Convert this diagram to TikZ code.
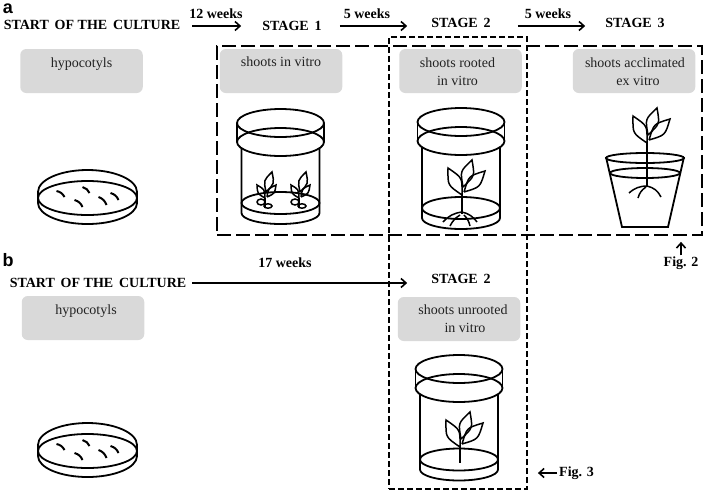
\documentclass[tikz,border=0pt]{standalone}
\usepackage{fontspec}
\setmainfont{Liberation Serif}
\newfontfamily\panelfont{Liberation Sans}
\usetikzlibrary{positioning, arrows.meta}

\definecolor{boxgrey}{HTML}{D9D9D9}
\definecolor{boxink}{HTML}{222222}

\newcommand{\leaf}[2]{\draw[leafline] (#1) to[bend left=28, looseness=1.5] (#2) to[bend left=28, looseness=1.5] (#1);}

\tikzset{
    heading/.style={font=\fontsize{14}{16}\selectfont\bfseries, inner sep=0pt},
    panel/.style={font=\fontsize{18}{18}\selectfont\panelfont\bfseries, inner sep=0pt},
    greybox/.style={fill=boxgrey, rounded corners=6pt, minimum width=122.5pt, minimum height=44pt, inner sep=0pt},
    boxtext/.style={font=\fontsize{14}{18}\selectfont, text=boxink, align=center, inner sep=0pt, anchor=north},
    flow/.style={line width=1.6pt, -{Straight Barb[length=5pt,width=9pt]}},
    longdash/.style={draw, line width=1.7pt, dash pattern=on 14pt off 5pt, minimum width=485pt, minimum height=189pt, inner sep=0pt},
    shortdash/.style={draw, line width=1.8pt, dash pattern=on 6pt off 3pt, minimum width=138pt, minimum height=452pt, inner sep=0pt},
    glass/.style={line width=1.8pt},
    leafline/.style={line width=1.5pt},
    pics/dish/.style={code={
        \draw[glass] (-49.5,-6) arc [start angle=180, end angle=360, x radius=49.5, y radius=22] -- (49.5,5)
            arc [start angle=0, end angle=180, x radius=49.5, y radius=21] -- cycle;
        \draw[glass] (0,0) ellipse [x radius=49.5, y radius=17];
        \foreach \ax/\ay/\bx/\by in {-31/-7/-23/-1, -5/-11/2/-5, -13/2/-5/9, 11/-1/19/7, 23/-5/31/2}
            \draw[line width=2pt] (\ax,\ay) to[bend left=25] (\bx,\by);
    }},
    pics/jar/.style={code={
        \draw[glass] (0,14) ellipse [x radius=43.5, y radius=14];
        \draw[glass] (0,33) ellipse [x radius=43.5, y radius=14];
        \draw[glass] (-43.5,14) -- (-43.5,33) (43.5,14) -- (43.5,33);
        \draw[glass] (-39,39) -- (-39,#1+10) arc [start angle=180, end angle=0, x radius=39, y radius=11] -- (39,39);
        \draw[glass] (0,#1) ellipse [x radius=39, y radius=11];
    }},
    pics/plant/.style={code={
        \leaf{0,0}{-14,-27}
        \leaf{1,-8}{10,-35}
        \leaf{2,-3}{23,-24}
    }},
    pics/sprout/.style={code={
        \leaf{0,-2}{-8,-15}
        \leaf{1,-8}{7,-28}
        \leaf{2,-3}{11,-15}
        \draw[leafline] (-4,2) ellipse [x radius=4, y radius=3];
        \draw[leafline] (3,6) ellipse [x radius=4, y radius=2.2];
        \draw[leafline] (0,-2) -- (0,8);
    }},
}

\begin{document}
\begin{tikzpicture}[x=1pt, y=-1pt]
    \useasboundingbox (0,0) rectangle (709,496);

    % part a
    \node[panel] (pa) at (8,9) {a};
    \node[heading] (starta) at (92,25) {START\, OF THE\, CULTURE};
    \node[heading] (weeksa) at (216,14) {12 weeks};
    \node[heading] (stagea) at (292,26) {STAGE\, 1};
    \node[heading] (weeksb) at (367,14) {5 weeks};
    \node[heading] (stageb) at (461,23) {STAGE\, 2};
    \node[heading] (weeksc) at (548,14) {5 weeks};
    \node[heading] (stagec) at (635,23) {STAGE\, 3};

    \draw[flow, shorten <=12pt, shorten >=21pt] (starta.east |- stagea) -- (stagea.west);
    \draw[flow, shorten <=18pt, shorten >=24pt] (stagea.east) -- (stagea.east -| stageb.west);
    \draw[flow, shorten <=27pt, shorten >=20pt] ([yshift=-3pt]stageb.east) -- ([yshift=-3pt]stagec.west);

    \node[greybox] (hypa) at (81.5,71) {};
    \node[boxtext] at ([yshift=-9pt]hypa.north) {hypocotyls};
    \node[greybox] (vitroa) at (281,71) {};
    \node[boxtext] at ([yshift=-8pt]vitroa.north) {shoots in vitro};
    \node[greybox] (vitrob) at (460.5,71) {};
    \node[boxtext, xshift=-3pt] at ([yshift=-9pt]vitrob.north) {shoots rooted\\in vitro};
    \node[greybox] (vitroc) at (634,71) {};
    \node[boxtext] at ([xshift=1pt, yshift=-9pt]vitroc.north) {shoots acclimated\\\hspace*{6pt}ex vitro};

    \pic at (87.5,198) {dish};
    \pic at (280.5,109) {jar=94};
    \pic at (265,200) {sprout};
    \pic at (299,200) {sprout};
    \pic at (461,108) {jar=100};
    \pic at (462,195) {plant};
    \draw[leafline] (462,195) -- (462,214);
    \draw[leafline] (462,212) to[bend right=20] (443,222);
    \draw[leafline] (462,212) to[bend left=20] (477,222);
    \draw[leafline] (460,215) to[bend right=15] (450,226);
    \draw[leafline] (464,215) to[bend left=15] (470,226);

    % pot
    \draw[glass] (606,157) -- (622,227) -- (668,227) -- (684,157);
    \draw[glass] (645,158) ellipse [x radius=39, y radius=5];
    \draw[glass] (645,173) ellipse [x radius=35, y radius=5];
    \pic at (647,143) {plant};
    \draw[line width=1.8pt] (647,143) -- (647,186);
    \draw[leafline] (647,186) to[bend right=20] (629,193);
    \draw[leafline] (646,187) to[bend right=20] (638,198);
    \draw[leafline] (647,186) to[bend left=25] (661,197);

    \node[longdash] (boxa) at (459.5,140.5) {};
    \node[shortdash] (boxb) at (458,263) {};

    \node[heading] (figa) at (681,263) {Fig. 2};
    \draw[flow, shorten <=1pt, shorten >=6pt] (figa.north) -- (figa.north |- boxa.south);

    % part b
    \node[panel] (pb) at (8,260) {b};
    \node[heading] (startb) at (98,283) {START\, OF THE\, CULTURE};
    \node[heading] (weeksd) at (285,263) {17 weeks};
    \node[heading] (staged) at (461,279) {STAGE\, 2};
    \draw[flow, shorten <=6pt, shorten >=24pt] (startb.east) -- (startb.east -| staged.west);

    \node[greybox] (hypb) at (83,318) {};
    \node[boxtext] at ([xshift=3pt, yshift=-9pt]hypb.north) {hypocotyls};
    \node[greybox] (vitrod) at (459,319) {};
    \node[boxtext] at ([xshift=4pt, yshift=-8pt]vitrod.north) {shoots unrooted\\\hspace*{4pt}in vitro};

    \pic at (87.5,451) {dish};
    \pic at (459,355) {jar=104.5};
    \pic at (460,447) {plant};
    \draw[leafline] (460,447) -- (460,463);

    \node[heading, anchor=west] (figb) at (559,473) {Fig. 3};
    \draw[flow, shorten <=2pt, shorten >=10pt] (figb.west) -- (figb.west -| boxb.east);
\end{tikzpicture}
\end{document}
